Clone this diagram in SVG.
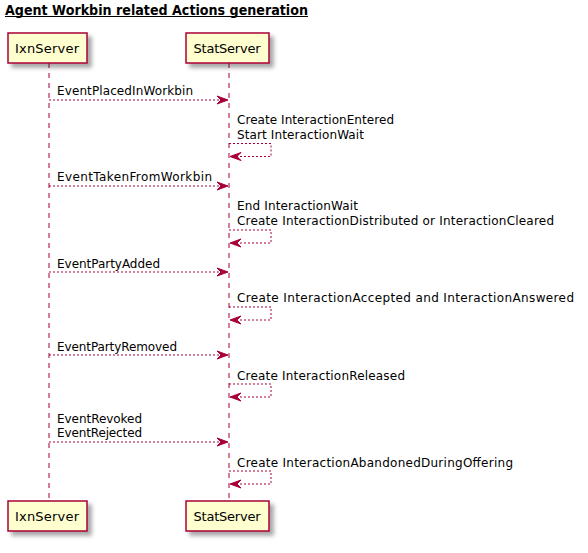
<svg xmlns="http://www.w3.org/2000/svg" width="588" height="553" viewBox="0 0 588 553">
<defs>
<filter id="shadow" x="-20%" y="-20%" width="150%" height="160%">
<feGaussianBlur in="SourceAlpha" stdDeviation="2"/>
<feOffset dx="4" dy="4" result="b"/>
<feFlood flood-color="#000" flood-opacity="0.35"/>
<feComposite in2="b" operator="in"/>
<feMerge><feMergeNode/><feMergeNode in="SourceGraphic"/></feMerge>
</filter>
</defs>
<style>
.box{fill:#FEFECE;stroke:#A80036;stroke-width:1.5;filter:url(#shadow)}
.pt{font-family:"DejaVu Sans",sans-serif;font-size:13px;fill:#000}
.life{stroke:#A80036;stroke-width:1;stroke-dasharray:5,5;fill:none}
.msg{stroke:#A80036;stroke-width:1;stroke-dasharray:2,2;fill:none}
.head{fill:#A80036;stroke:#A80036;stroke-width:1}
.t{font-family:"DejaVu Sans",sans-serif;font-size:12px;fill:#000}
.title{font-family:"DejaVu Sans",sans-serif;font-size:13.5px;font-weight:bold;fill:#000}
</style>
<rect width="588" height="553" fill="#FFFFFF"/>
<text class="title" x="5" y="15" textLength="303" lengthAdjust="spacingAndGlyphs">Agent Workbin related Actions generation</text>
<line x1="5" y1="16.5" x2="308" y2="16.5" stroke="#000" stroke-width="1"/>

<g id="lifelines">
<line class="life" x1="49" y1="63" x2="49" y2="501"/>
<line class="life" x1="229" y1="63" x2="229" y2="501"/>
</g>

<g id="IxnServer">
<rect class="box" x="8" y="33" width="79" height="30"/>
<text class="pt" x="15" y="52.5" textLength="64" lengthAdjust="spacing">IxnServer</text>
<rect class="box" x="8" y="501" width="79" height="30"/>
<text class="pt" x="15" y="520.5" textLength="64" lengthAdjust="spacing">IxnServer</text>
</g>
<g id="StatServer">
<rect class="box" x="186" y="33" width="83" height="30"/>
<text class="pt" x="193.5" y="52.5" textLength="67" lengthAdjust="spacing">StatServer</text>
<rect class="box" x="186" y="501" width="83" height="30"/>
<text class="pt" x="193.5" y="520.5" textLength="67" lengthAdjust="spacing">StatServer</text>
</g>

<g id="connectors">
<line class="msg" x1="49" y1="100" x2="227" y2="100"/>
<polygon class="head" points="217,96 228,100 217,104 221,100"/>
<polyline class="msg" points="229,143.5 271,143.5 271,156.5 230,156.5"/>
<polygon class="head" points="241,152.5 230,156.5 241,160.5 237,156.5"/>
<line class="msg" x1="49" y1="186" x2="227" y2="186"/>
<polygon class="head" points="217,182 228,186 217,190 221,186"/>
<polyline class="msg" points="229,230 271,230 271,243 230,243"/>
<polygon class="head" points="241,239 230,243 241,247 237,243"/>
<line class="msg" x1="49" y1="272" x2="227" y2="272"/>
<polygon class="head" points="217,268 228,272 217,276 221,272"/>
<polyline class="msg" points="229,307 271,307 271,320 230,320"/>
<polygon class="head" points="241,316 230,320 241,324 237,320"/>
<line class="msg" x1="49" y1="355" x2="227" y2="355"/>
<polygon class="head" points="217,351 228,355 217,359 221,355"/>
<polyline class="msg" points="229,384 271,384 271,397 230,397"/>
<polygon class="head" points="241,393 230,397 241,401 237,397"/>
<line class="msg" x1="49" y1="442" x2="227" y2="442"/>
<polygon class="head" points="217,438 228,442 217,446 221,442"/>
<polyline class="msg" points="229,471 271,471 271,484 230,484"/>
<polygon class="head" points="241,480 230,484 241,488 237,484"/>
</g>

<g id="labels">
<text class="t" x="57" y="95" textLength="136" lengthAdjust="spacing">EventPlacedInWorkbin</text>
<text class="t" x="237" y="124" textLength="157" lengthAdjust="spacing">Create InteractionEntered</text>
<text class="t" x="237" y="138.5" textLength="127" lengthAdjust="spacing">Start InteractionWait</text>
<text class="t" x="57" y="181" textLength="155" lengthAdjust="spacing">EventTakenFromWorkbin</text>
<text class="t" x="237" y="210" textLength="121" lengthAdjust="spacing">End InteractionWait</text>
<text class="t" x="237" y="224.5" textLength="317" lengthAdjust="spacing">Create InteractionDistributed or InteractionCleared</text>
<text class="t" x="57" y="267.5" textLength="103" lengthAdjust="spacing">EventPartyAdded</text>
<text class="t" x="237" y="302" textLength="337" lengthAdjust="spacing">Create InteractionAccepted and InteractionAnswered</text>
<text class="t" x="57" y="350.5" textLength="120" lengthAdjust="spacing">EventPartyRemoved</text>
<text class="t" x="237" y="379.5" textLength="168" lengthAdjust="spacing">Create InteractionReleased</text>
<text class="t" x="57" y="422.5" textLength="85" lengthAdjust="spacing">EventRevoked</text>
<text class="t" x="57" y="436.5" textLength="85" lengthAdjust="spacing">EventRejected</text>
<text class="t" x="237" y="466.5" textLength="276" lengthAdjust="spacing">Create InteractionAbandonedDuringOffering</text>
</g>
</svg>
